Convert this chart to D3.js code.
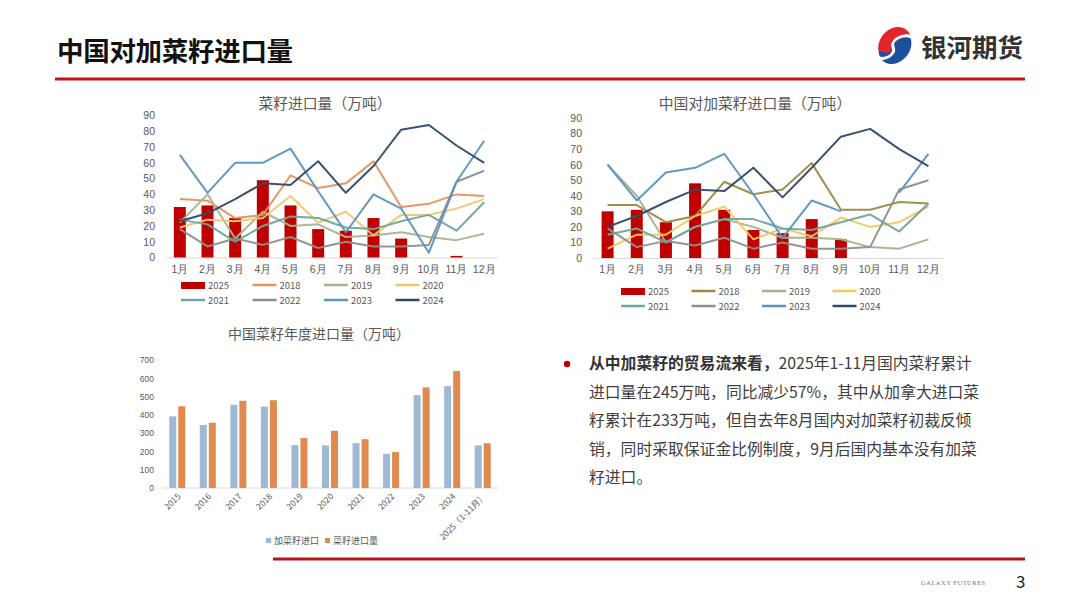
<!DOCTYPE html>
<html>
<head>
<meta charset="utf-8">
<script src="https://cdn.jsdelivr.net/npm/d3@7"></script>
<style>
  body { margin: 0; background: #fff; }
  svg { display: block; font-family: "Noto Sans CJK SC", "Noto Sans", sans-serif; }
</style>
</head>
<body>
<svg id="page" width="1080" height="608"></svg>
<script>
// ---------------- 数据 ----------------
const months = ["1月","2月","3月","4月","5月","6月","7月","8月","9月","10月","11月","12月"];
const lineYears = ["2018","2019","2020","2021","2022","2023","2024"];

// 菜籽进口量（万吨）
const all2025 = [32, 33, 25, 49, 33, 18, 17, 25, 12, 0, 1, null];
const all2018 = [37, 36, 25, 27, 52, 44, 47, 61, 32, 34, 40, 39];
const all2019 = [22, 40, 12, 29, 20, 21, 13, 14, 16, 13, 11, 15];
const all2020 = [19, 24, 23, 25, 39, 22, 29, 14, 27, 27, 31, 37];
const all2021 = [24, 21, 10, 20, 26, 25, 19, 18, 23, 27, 17, 35];
const all2022 = [18, 7, 12, 8, 13, 6, 10, 7, 7, 8, 48, 55];
const all2023 = [65, 41, 60, 60, 69, 42, 16, 40, 31, 3, 48, 74];
const all2024 = [23, 28, 37, 47, 46, 61, 41, 58, 81, 84, 71, 60];

// 中国对加菜籽进口量（万吨）
const ca2025 = [30, 31, 23, 48, 31, 18, 16, 25, 12, null, null, null];
const ca2018 = [34, 34, 23, 27, 49, 41, 44, 61, 31, 31, 36, 35];
const ca2019 = [60, 40, 10, 20, 25, 20, 13, 13, 12, 7, 6, 12];
const ca2020 = [6, 15, 15, 27, 33, 12, 19, 14, 26, 20, 23, 33];
const ca2021 = [15, 19, 10, 20, 25, 25, 19, 18, 23, 28, 17, 35];
const ca2022 = [19, 7, 11, 8, 13, 6, 10, 6, 6, 7, 44, 50];
const ca2023 = [60, 37, 55, 58, 67, 41, 13, 37, 30, null, 42, 67];
const ca2024 = [20, 27, 36, 44, 43, 58, 39, 58, 78, 83, 70, 59];

// 中国菜籽年度进口量（万吨）
const annualYears = ["2015","2016","2017","2018","2019","2020","2021","2022","2023","2024","2025（1-11月）"];
const annualCanada = [392, 345, 455, 445, 235, 233, 245, 187, 508, 557, 233];
const annualTotal = [447, 357, 477, 480, 273, 313, 267, 197, 550, 640, 245];

const bodyLines = [
  ["从中加菜籽的贸易流来看，", "2025年1-11月国内菜籽累计"],
  ["", "进口量在245万吨，同比减少57%，其中从加拿大进口菜"],
  ["", "籽累计在233万吨，但自去年8月国内对加菜籽初裁反倾"],
  ["", "销，同时采取保证金比例制度，9月后国内基本没有加菜"],
  ["", "籽进口。"]
];

// ---------------- 页面 ----------------
const svg = d3.select("#page");
const gray = "#595959";

svg.append("text").attr("x", 57).attr("y", 61)
  .attr("font-size", 26.5).attr("font-weight", 700).attr("fill", "#111")
  .attr("letter-spacing", -0.3)
  .text("中国对加菜籽进口量");

svg.append("rect").attr("x", 55).attr("y", 77.5).attr("width", 970).attr("height", 3).attr("fill", "#c0141c");
svg.append("rect").attr("x", 273).attr("y", 557.5).attr("width", 752).attr("height", 3).attr("fill", "#b5141b");

// logo
const logo = svg.append("g").attr("transform", "translate(895,47) skewX(-12)");
logo.append("ellipse").attr("rx", 16).attr("ry", 17).attr("fill", "#1d4f9f");
logo.append("path")
  .attr("d", "M-16,3 A16,17 0 0,1 14,-9 C4,-11 -4,-5 -3,1 C-2,6 -9,7 -16,3 Z")
  .attr("fill", "#e3262d");
logo.append("path")
  .attr("d", "M15,-10 C3,-14 -6,-6 -2,0 C2,6 -4,13 -14,11")
  .attr("fill", "none").attr("stroke", "#fff").attr("stroke-width", 3);
svg.append("text").attr("x", 921).attr("y", 57).attr("font-size", 25.5)
  .attr("font-weight", 700).attr("fill", "#333").text("银河期货");

svg.append("text").attr("x", 921).attr("y", 585).attr("font-size", 6.5)
  .attr("font-family", "Liberation Serif, serif").attr("fill", "#777")
  .attr("letter-spacing", 0.5).text("GALAXY  FUTURES");
svg.append("text").attr("x", 1016).attr("y", 588).attr("font-size", 17)
  .attr("fill", "#222").text("3");

// ---------------- 月度图 ----------------
function monthlyChart(cfg) {
  const g = svg.append("g");
  const x = d3.scaleBand().domain(months).range([cfg.x0, cfg.x1]);
  const y = d3.scaleLinear().domain([0, 90]).range([cfg.yb, cfg.yt]);

  g.append("text").attr("x", cfg.tx).attr("y", cfg.ty).attr("text-anchor", "middle")
    .attr("font-size", 14.8).attr("fill", gray).text(cfg.title);

  const ya = g.append("g").attr("transform", `translate(${cfg.x0 - 8},0)`)
    .call(d3.axisLeft(y).tickValues(d3.range(0, 91, 10)).tickSize(0));
  ya.select(".domain").remove();
  ya.selectAll("text").attr("font-size", 10.5).attr("fill", gray).attr("dx", 0);

  const xa = g.append("g").attr("transform", `translate(0,${cfg.yb})`)
    .call(d3.axisBottom(x).tickSize(0).tickPadding(8));
  xa.select(".domain").attr("stroke", "#d9d9d9");
  xa.selectAll("text").attr("font-size", 10.5).attr("fill", gray);

  const bars = cfg.series[0];
  g.selectAll("rect.bar").data(bars.map((v, i) => [months[i], v]).filter(d => d[1] != null))
    .join("rect").attr("class", "bar")
    .attr("x", d => x(d[0]) + x.bandwidth() / 2 - 6)
    .attr("width", 12)
    .attr("y", d => y(d[1]))
    .attr("height", d => y(0) - y(d[1]))
    .attr("fill", "#c00000");

  const line = d3.line()
    .defined(d => d[1] != null)
    .x(d => x(d[0]) + x.bandwidth() / 2)
    .y(d => y(d[1]));

  cfg.series.slice(1).forEach((s, k) => {
    g.append("path").datum(s.map((v, i) => [months[i], v]))
      .attr("d", line).attr("fill", "none")
      .attr("stroke", cfg.colors[k]).attr("stroke-width", 2)
      .attr("stroke-linejoin", "round").attr("opacity", 0.95);
  });

  // 图例
  const names = ["2025"].concat(lineYears);
  names.forEach((n, i) => {
    const col = i % 4, row = Math.floor(i / 4);
    const lx = cfg.lx + col * cfg.lstep, ly = cfg.ly + row * cfg.lrow;
    if (i === 0) {
      g.append("rect").attr("x", lx).attr("y", ly - 3).attr("width", 24).attr("height", 7).attr("fill", "#c00000");
    } else {
      g.append("line").attr("x1", lx).attr("x2", lx + 24).attr("y1", ly).attr("y2", ly)
        .attr("stroke", cfg.colors[i - 1]).attr("stroke-width", 2.5);
    }
    g.append("text").attr("x", lx + 27).attr("y", ly + 3.5).attr("font-size", 9.5)
      .attr("fill", gray).text(n);
  });
}

monthlyChart({
  title: "菜籽进口量（万吨）", tx: 325, ty: 109,
  x0: 166, x1: 498, yb: 257.5, yt: 115.5,
  series: [all2025, all2018, all2019, all2020, all2021, all2022, all2023, all2024],
  colors: ["#e8905b", "#aab48c", "#f3c66e", "#6ea79c", "#8e8e8e", "#5993c0", "#2f4a68"],
  lx: 181, ly: 285, lstep: 71.5, lrow: 15
});

monthlyChart({
  title: "中国对加菜籽进口量（万吨）", tx: 755, ty: 109,
  x0: 593, x1: 943, yb: 258, yt: 118,
  series: [ca2025, ca2018, ca2019, ca2020, ca2021, ca2022, ca2023, ca2024],
  colors: ["#9c8a44", "#a9b08e", "#f2c95e", "#6ea79c", "#8e8e8e", "#5993c0", "#2f4a68"],
  lx: 621, ly: 291, lstep: 70.5, lrow: 15
});

// ---------------- 年度图 ----------------
{
  const g = svg.append("g");
  const x = d3.scaleBand().domain(annualYears).range([162, 498]);
  const y = d3.scaleLinear().domain([0, 700]).range([488, 360]);

  g.append("text").attr("x", 319).attr("y", 339).attr("text-anchor", "middle")
    .attr("font-size", 14).attr("fill", gray).text("中国菜籽年度进口量（万吨）");

  const ya = g.append("g").attr("transform", "translate(157,0)")
    .call(d3.axisLeft(y).tickValues(d3.range(0, 701, 100)).tickSize(0));
  ya.select(".domain").remove();
  ya.selectAll("text").attr("font-size", 8.5).attr("fill", gray);

  g.append("line").attr("x1", 162).attr("x2", 498).attr("y1", 488).attr("y2", 488).attr("stroke", "#d9d9d9");

  annualYears.forEach((yr, i) => {
    const cx = x(yr) + x.bandwidth() / 2;
    g.append("text").attr("transform", `translate(${cx + 4},${497}) rotate(-45)`)
      .attr("text-anchor", "end").attr("font-size", 8.5).attr("fill", gray).text(yr);
  });

  g.selectAll("rect.ca").data(annualYears).join("rect")
    .attr("x", (d) => x(d) + x.bandwidth() / 2 - 8)
    .attr("width", 7)
    .attr("y", (d, i) => y(annualCanada[i]))
    .attr("height", (d, i) => 488 - y(annualCanada[i]))
    .attr("fill", "#9fb9d4");
  g.selectAll("rect.tot").data(annualYears).join("rect")
    .attr("x", (d) => x(d) + x.bandwidth() / 2 + 1)
    .attr("width", 7)
    .attr("y", (d, i) => y(annualTotal[i]))
    .attr("height", (d, i) => 488 - y(annualTotal[i]))
    .attr("fill", "#e08a4f");

  g.append("rect").attr("x", 266).attr("y", 538).attr("width", 5).attr("height", 5).attr("fill", "#9fb9d4");
  g.append("text").attr("x", 274).attr("y", 544).attr("font-size", 9).attr("fill", gray).text("加菜籽进口");
  g.append("rect").attr("x", 325).attr("y", 538).attr("width", 5).attr("height", 5).attr("fill", "#e08a4f");
  g.append("text").attr("x", 333).attr("y", 544).attr("font-size", 9).attr("fill", gray).text("菜籽进口量");
}

// ---------------- 文字说明 ----------------
svg.append("circle").attr("cx", 567).attr("cy", 364).attr("r", 3.2).attr("fill", "#c00000");
bodyLines.forEach((ln, i) => {
  const t = svg.append("text").attr("x", 589).attr("y", 369 + i * 28.5)
    .attr("font-size", 15.8).attr("fill", "#404040");
  if (ln[0]) t.append("tspan").attr("font-weight", 700).attr("fill", "#333").text(ln[0]);
  t.append("tspan").text(ln[1]);
});
</script>
</body>
</html>
